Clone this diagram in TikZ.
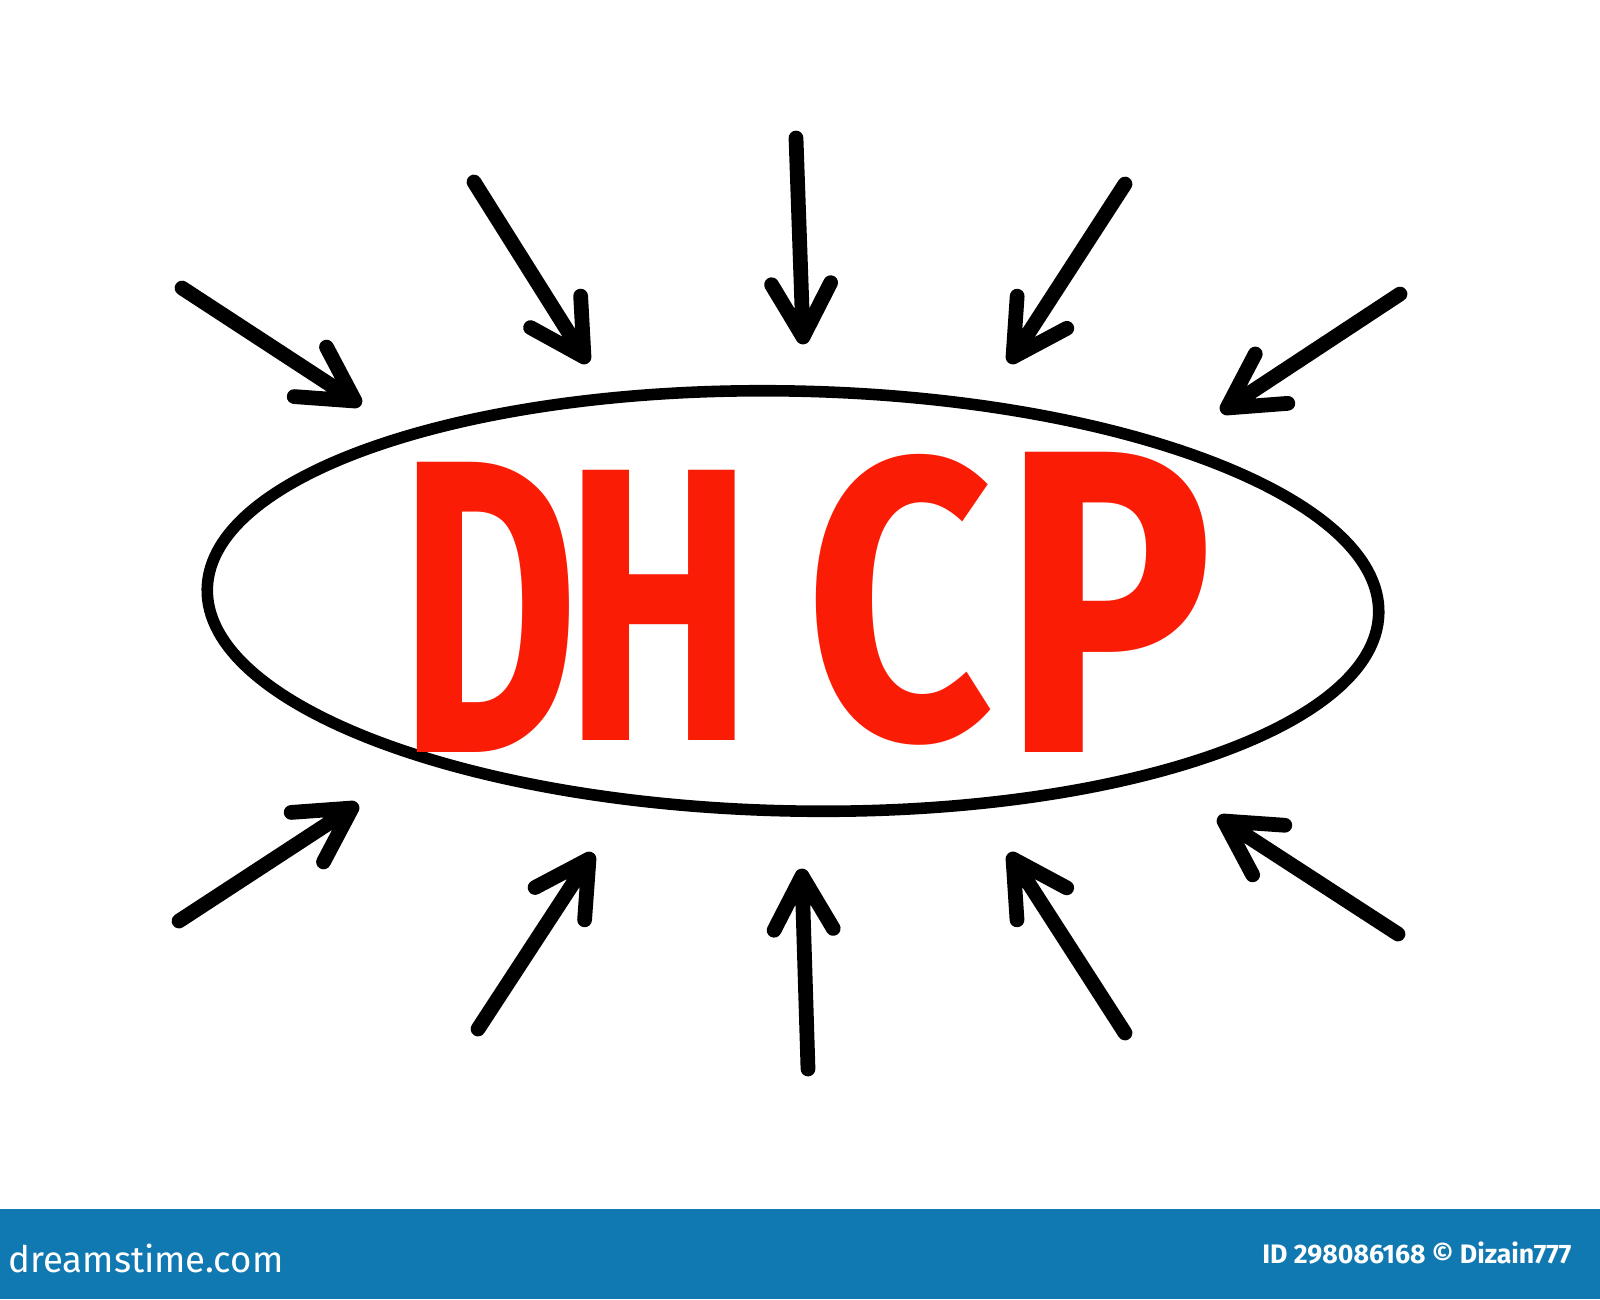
\documentclass[tikz,border=0pt]{standalone}
\usepackage{fontspec}
\usetikzlibrary{calc,shapes.geometric}
\newfontfamily\dhcpfont{Fira Sans}
\newfontfamily\footfont{Fira Sans}
\definecolor{dhred}{RGB}{250,28,5}
\definecolor{footblue}{RGB}{17,121,177}
\newcommand{\letterbox}[3]{\resizebox{#1}{#2}{\dhcpfont\bfseries #3}}
\begin{document}
\begin{tikzpicture}[x=0.02cm,y=-0.02cm,
  arr/.style={line width=8.4pt,line cap=round,line join=round,black},
  oval/.style={draw,ellipse,line width=6.6pt,inner sep=0pt},
  letter/.style={inner sep=0pt,text=dhred},
  foottext/.style={inner sep=0pt,text=white,anchor=west}]
\fill[white] (0,0) rectangle (1600,1299);
\useasboundingbox (0,0) rectangle (1600,1299);
\node[oval,minimum width=23.44cm,minimum height=8.4cm,rotate=-1.2] (ring) at (793,601) {};
\node[letter] (lD) at (489,607) {\letterbox{3.58cm}{5.8cm}{D}};
\node[letter] (lH) at (659,605) {\letterbox{3.78cm}{5.4cm}{H}};
\node[letter] (lC) at (899,600) {\letterbox{3.76cm}{5.68cm}{C}};
\node[letter] (lP) at (1108,602) {\letterbox{4.23cm}{6.0cm}{P}};
\foreach \n/\tx/\ty/\hx/\hy in {1/182/288/355/401, 2/474/182/584/357, 3/796/138/803/337,
  4/1125/184/1013/357, 5/1400/294/1227/408, 6/179/921/352/808, 7/478/1029/589/859,
  8/808/1069/802/876, 9/1125/1033/1013/859, 10/1398/934/1224/821}{
  \coordinate (t\n) at (\tx,\ty);
  \coordinate (h\n) at (\hx,\hy);
  \draw[arr] (t\n) -- (h\n) -- ($(h\n)!1.22cm!29:(t\n)$) (h\n) -- ($(h\n)!1.22cm!-29:(t\n)$);
}
\fill[footblue] (0,1209) rectangle (1600,1299);
\node[foottext] (logo) at (8,1258) {\resizebox{5.5cm}{!}{\footfont dreamstime.com}};
\node[foottext] (credit) at (1262,1253) {\resizebox{6.18cm}{!}{\footfont\bfseries ID 298086168 © Dizain777}};
\end{tikzpicture}
\end{document}
